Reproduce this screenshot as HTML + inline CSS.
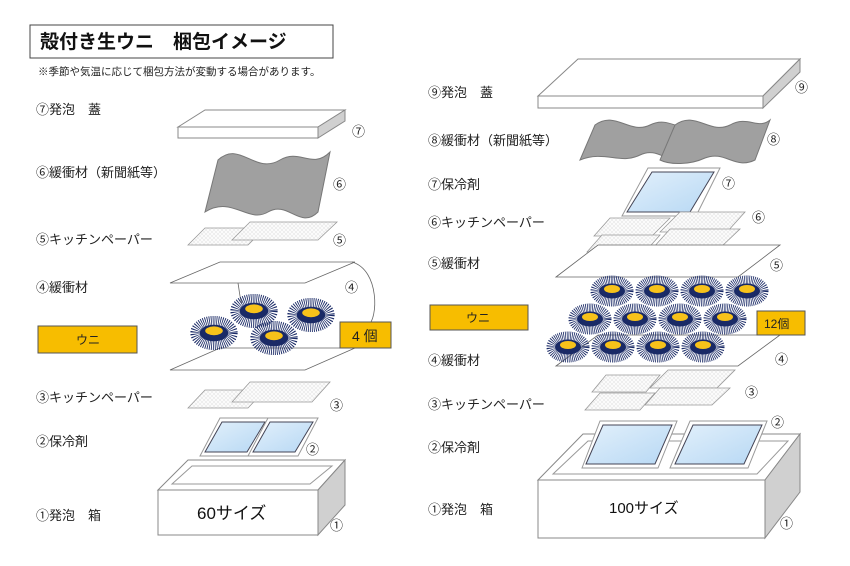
<!DOCTYPE html>
<html><head><meta charset="utf-8"><style>
html,body{margin:0;padding:0;background:#fff;}
svg{display:block;font-family:"Liberation Sans","Noto Sans CJK JP",sans-serif;}
.l{font-size:13px;fill:#222;}
.n{font-size:13px;fill:#222;}
</style></head><body>
<svg width="850" height="566" viewBox="0 0 850 566" xmlns="http://www.w3.org/2000/svg">
<defs>
<g id="u">
<ellipse cx="0" cy="0" rx="16" ry="10" fill="none" stroke="#1a2a66" stroke-width="11" stroke-dasharray="0.7 0.9"/>
<ellipse cx="0" cy="0" rx="13" ry="7.5" fill="#1a2a66"/>
<ellipse cx="0" cy="-2" rx="8" ry="4" fill="#f7c21a"/>
</g>
<linearGradient id="ice" x1="0" y1="0" x2="1" y2="1"><stop offset="0" stop-color="#e2f0fb"/><stop offset="1" stop-color="#b7d8f4"/></linearGradient>
<pattern id="mesh" width="4" height="4" patternUnits="userSpaceOnUse"><rect width="4" height="4" fill="#fbfbfb"/><path d="M0 0L4 4M4 0L0 4" stroke="#e2e2e2" stroke-width="0.5"/></pattern>
</defs>

<rect x="30" y="25" width="303" height="33" fill="#fff" stroke="#444" stroke-width="1"/>
<text x="40" y="48" font-size="19" font-weight="bold" fill="#111">殻付き生ウニ　梱包イメージ</text>
<text x="38" y="75" font-size="10.5" fill="#222">※季節や気温に応じて梱包方法が変動する場合があります。</text>

<text class="l" x="36" y="114">⑦発泡　蓋</text>
<text class="l" x="36" y="177">⑥緩衝材（新聞紙等）</text>
<text class="l" x="36" y="244">⑤キッチンペーパー</text>
<text class="l" x="36" y="292">④緩衝材</text>
<rect x="38" y="326" width="99" height="27" fill="#f7bd00" stroke="#555"/>
<text x="76" y="344" font-size="12" fill="#222">ウニ</text>
<text class="l" x="36" y="402">③キッチンペーパー</text>
<text class="l" x="36" y="446">②保冷剤</text>
<text class="l" x="36" y="520">①発泡　箱</text>

<polygon points="178,127 205,110 345,110 318,127" fill="#fff" stroke="#888"/>
<polygon points="178,127 318,127 318,138 178,138" fill="#fff" stroke="#888"/>
<polygon points="318,127 345,110 345,121 318,138" fill="#d0d0d0" stroke="#888"/>
<text class="n" x="352" y="136">⑦</text>
<path d="M218,160 C240,140 255,175 280,160 C300,148 312,170 330,152 L318,212 C300,230 288,200 268,212 C248,224 232,195 205,212 Z" fill="#a0a0a0" stroke="#777"/>
<text class="n" x="333" y="189">⑥</text>
<polygon points="188,245 205,228 265,228 248,245" fill="url(#mesh)" stroke="#999" stroke-width=".8"/>
<polygon points="232,240 250,222 337,222 318,240" fill="url(#mesh)" stroke="#999" stroke-width=".8"/>
<text class="n" x="333" y="245">⑤</text>
<polygon points="170,283 220,262 355,262 305,283" fill="#fff" stroke="#666" stroke-width=".8"/>
<path d="M352,262 C380,270 378,320 368,325" fill="none" stroke="#666" stroke-width=".8"/>
<path d="M238,283 C240,295 240,300 242,303" fill="none" stroke="#666" stroke-width=".8"/>
<text class="n" x="345" y="292">④</text>
<polygon points="170,370 220,348 355,348 305,370" fill="#fff" stroke="#666" stroke-width=".8"/>
<g transform="translate(254,311) scale(1.1)"><use href="#u"/></g>
<g transform="translate(311,315) scale(1.1)"><use href="#u"/></g>
<g transform="translate(214,333) scale(1.1)"><use href="#u"/></g>
<g transform="translate(274,338) scale(1.1)"><use href="#u"/></g>
<rect x="340" y="322" width="51" height="26" fill="#f7bd00" stroke="#555"/>
<text x="352" y="341" font-size="14" fill="#222">4 個</text>
<polygon points="188,408 205,390 265,390 248,408" fill="url(#mesh)" stroke="#999" stroke-width=".8"/>
<polygon points="232,402 250,382 330,382 312,402" fill="url(#mesh)" stroke="#999" stroke-width=".8"/>
<text class="n" x="330" y="410">③</text>
<polygon points="200,456 220,418 270,418 250,456" fill="#fff" stroke="#999"/>
<polygon points="205,452 222,422 265,422 247,452" fill="url(#ice)" stroke="#445"/>
<polygon points="248,456 268,418 318,418 298,456" fill="#fff" stroke="#999"/>
<polygon points="253,452 270,422 313,422 295,452" fill="url(#ice)" stroke="#445"/>
<text class="n" x="306" y="454">②</text>
<polygon points="158,490 188,460 345,460 318,490" fill="#fff" stroke="#888"/>
<polygon points="172,484 192,466 332,466 310,484" fill="#fff" stroke="#999"/>
<rect x="158" y="490" width="160" height="45" fill="#fff" stroke="#888"/>
<polygon points="318,490 345,460 345,505 318,535" fill="#d0d0d0" stroke="#888"/>
<text x="197" y="519" font-size="17" fill="#111">60サイズ</text>
<text class="n" x="330" y="530">①</text>

<text class="l" x="428" y="97">⑨発泡　蓋</text>
<text class="l" x="428" y="145">⑧緩衝材（新聞紙等）</text>
<text class="l" x="428" y="189">⑦保冷剤</text>
<text class="l" x="428" y="227">⑥キッチンペーパー</text>
<text class="l" x="428" y="268">⑤緩衝材</text>
<rect x="430" y="305" width="98" height="25" fill="#f7bd00" stroke="#555"/>
<text x="466" y="322" font-size="12" fill="#222">ウニ</text>
<text class="l" x="428" y="365">④緩衝材</text>
<text class="l" x="428" y="409">③キッチンペーパー</text>
<text class="l" x="428" y="452">②保冷剤</text>
<text class="l" x="428" y="514">①発泡　箱</text>

<polygon points="538,96 578,59 800,59 763,96" fill="#fff" stroke="#888"/>
<polygon points="538,96 763,96 763,108 538,108" fill="#fff" stroke="#888"/>
<polygon points="763,96 800,59 800,72 763,108" fill="#d0d0d0" stroke="#888"/>
<text class="n" x="795" y="92">⑨</text>
<path d="M595,125 C615,110 630,135 650,125 C670,115 680,135 700,125 L690,155 C670,170 660,145 640,155 C620,165 605,150 580,160 Z" fill="#a0a0a0" stroke="#777"/>
<path d="M675,125 C695,110 710,135 730,125 C748,115 758,130 770,120 L755,160 C735,170 725,150 705,158 C690,165 670,165 660,160 Z" fill="#a0a0a0" stroke="#777"/>
<text class="n" x="767" y="144">⑧</text>
<polygon points="622,216 648,168 720,168 696,216" fill="#fff" stroke="#999"/>
<polygon points="627,212 652,172 714,172 690,212" fill="url(#ice)" stroke="#445"/>
<text class="n" x="722" y="188">⑦</text>
<polygon points="594,236 610,218 670,218 652,236" fill="url(#mesh)" stroke="#999" stroke-width=".8"/>
<polygon points="660,232 680,212 745,212 727,232" fill="url(#mesh)" stroke="#999" stroke-width=".8"/>
<polygon points="587,252 602,235 660,235 645,252" fill="url(#mesh)" stroke="#999" stroke-width=".8"/>
<polygon points="653,248 670,229 740,229 720,248" fill="url(#mesh)" stroke="#999" stroke-width=".8"/>
<text class="n" x="752" y="222">⑥</text>
<polygon points="556,277 598,245 780,245 738,277" fill="#fff" stroke="#666" stroke-width=".8"/>
<text class="n" x="770" y="270">⑤</text>
<polygon points="556,366 598,335 780,335 738,366" fill="#fff" stroke="#666" stroke-width=".8"/>
<text class="n" x="775" y="364">④</text>
<use href="#u" x="612" y="291"/><use href="#u" x="657" y="291"/><use href="#u" x="702" y="291"/><use href="#u" x="747" y="291"/>
<use href="#u" x="590" y="319"/><use href="#u" x="635" y="319"/><use href="#u" x="680" y="319"/><use href="#u" x="725" y="319"/>
<use href="#u" x="568" y="347"/><use href="#u" x="613" y="347"/><use href="#u" x="658" y="347"/><use href="#u" x="703" y="347"/>
<rect x="757" y="311" width="48" height="24" fill="#f7bd00" stroke="#555"/>
<text x="764" y="328" font-size="12" fill="#222">12個</text>
<polygon points="592,392 606,375 660,375 646,392" fill="url(#mesh)" stroke="#999" stroke-width=".8"/>
<polygon points="650,388 668,370 735,370 717,388" fill="url(#mesh)" stroke="#999" stroke-width=".8"/>
<polygon points="585,410 600,393 655,393 640,410" fill="url(#mesh)" stroke="#999" stroke-width=".8"/>
<polygon points="645,405 660,388 730,388 712,405" fill="url(#mesh)" stroke="#999" stroke-width=".8"/>
<text class="n" x="745" y="397">③</text>
<polygon points="538,480 583,434 800,434 765,480" fill="#fff" stroke="#888"/>
<polygon points="553,474 588,441 788,441 757,474" fill="#fff" stroke="#999"/>
<polygon points="582,468 600,421 677,421 658,468" fill="#fff" stroke="#999"/>
<polygon points="586,464 603,425 672,425 655,464" fill="url(#ice)" stroke="#445"/>
<polygon points="670,468 690,421 767,421 748,468" fill="#fff" stroke="#999"/>
<polygon points="675,464 693,425 762,425 744,464" fill="url(#ice)" stroke="#445"/>
<text class="n" x="771" y="427">②</text>
<rect x="538" y="480" width="227" height="58" fill="#fff" stroke="#888"/>
<polygon points="765,480 800,434 800,492 765,538" fill="#d0d0d0" stroke="#888"/>
<text x="609" y="513" font-size="15" fill="#111">100サイズ</text>
<text class="n" x="780" y="528">①</text>
</svg>
</body></html>
